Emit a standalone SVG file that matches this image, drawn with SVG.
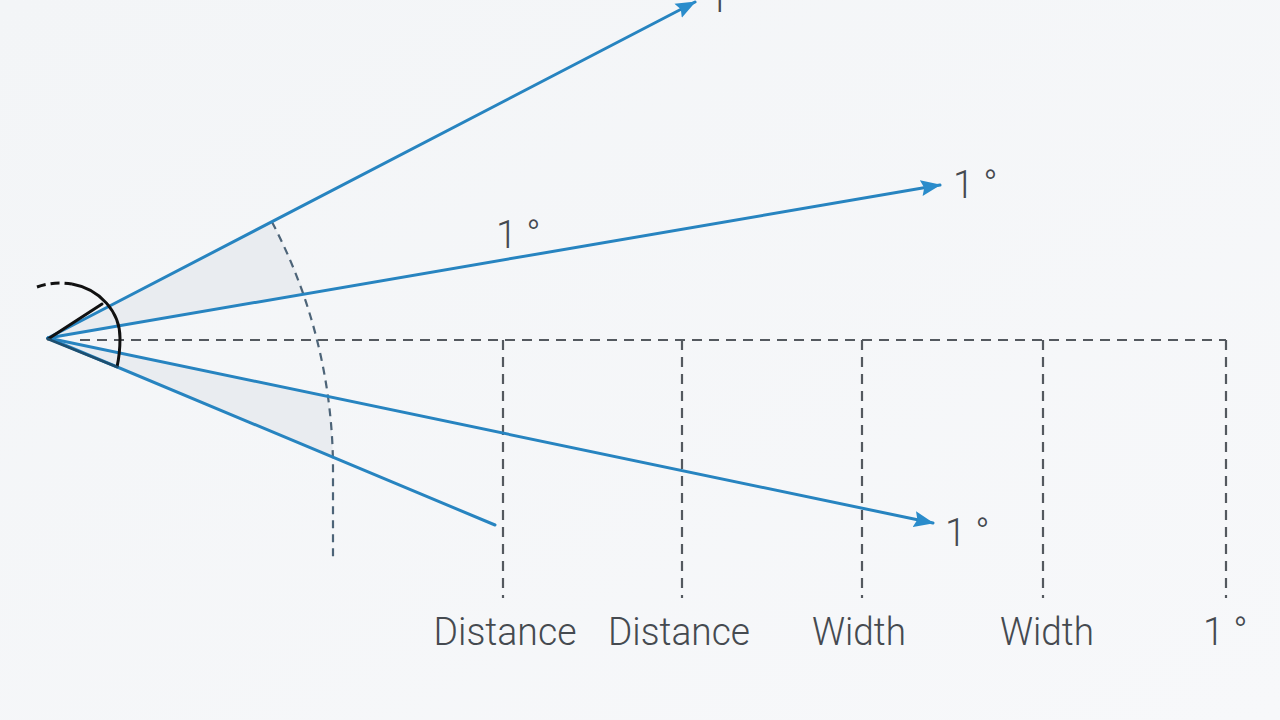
<svg xmlns="http://www.w3.org/2000/svg" width="1280" height="720" viewBox="0 0 1280 720">
<style>
.ray{stroke:#2784c0;stroke-width:3;fill:none;stroke-linecap:round}
.dash{stroke:#54595f;stroke-width:2.2;fill:none;stroke-dasharray:10 7}
.lbl{font-family:"Roboto","Liberation Sans",sans-serif;font-weight:300;font-size:38px;fill:#454a50}
.wedge{fill:#e6eaef;opacity:0.85}
</style>
<defs>
<linearGradient id="bg" x1="0" y1="0" x2="1" y2="1">
<stop offset="0" stop-color="#f3f5f7"/>
<stop offset="1" stop-color="#f7f8fa"/>
</linearGradient>
<marker id="arr" markerUnits="userSpaceOnUse" markerWidth="20" markerHeight="18" viewBox="0 0 20 18" refX="19" refY="9" orient="auto">
<path d="M0,1 L20,9 L0,17 L3,9 Z" fill="#2a8ccb"/>
</marker>
</defs>
<rect width="1280" height="720" fill="url(#bg)"/>
<g id="wedges">
<path class="wedge" d="M48,338 L272,222 A533,533 0 0,1 305,294 Z"/>
<path class="wedge" d="M48,338 L328,397 A533,533 0 0,1 333,457 Z"/>
</g>
<g id="guides">
<line class="dash" x1="80" y1="340" x2="1226" y2="340"/>
<line class="dash" x1="503" y1="340" x2="503" y2="598"/>
<line class="dash" x1="682" y1="340" x2="682" y2="598"/>
<line class="dash" x1="862" y1="340" x2="862" y2="598"/>
<line class="dash" x1="1043" y1="340" x2="1043" y2="598"/>
<line class="dash" x1="1226" y1="340" x2="1226" y2="598"/>
<path class="dash" d="M272,222 A533,533 0 0,1 333,470 L333,560" style="stroke:#4d6478;stroke-dasharray:8 6"/>
</g>
<g id="connectors">
<line class="ray" x1="48" y1="338" x2="695" y2="2" marker-end="url(#arr)"/>
<line class="ray" x1="48" y1="338" x2="940" y2="185" marker-end="url(#arr)"/>
<line class="ray" x1="48" y1="338" x2="933" y2="523" marker-end="url(#arr)"/>
<line class="ray" x1="48" y1="338" x2="495" y2="525"/>
</g>
<g id="eye">
<path d="M37,287 C48,283 60,282 72,284" fill="none" stroke="#111" stroke-width="3" stroke-dasharray="9 5"/>
<path d="M72,284 C100,289 120,312 120,338 C120,350 119,358 117,367" fill="none" stroke="#111" stroke-width="3"/>
<line x1="48" y1="339" x2="102" y2="304" stroke="#111" stroke-width="3" stroke-linecap="round"/>
<line x1="48" y1="339" x2="117" y2="367" stroke="#1d4f70" stroke-width="2.8" stroke-linecap="round"/>
</g>
<g id="labels">
<text class="lbl" x="708" y="12">1 °</text>
<text class="lbl" x="953" y="198">1 °</text>
<text class="lbl" x="496" y="248">1 °</text>
<text class="lbl" x="945" y="546">1 °</text>
<text class="lbl" x="505" y="645" text-anchor="middle" textLength="143" lengthAdjust="spacingAndGlyphs">Distance</text>
<text class="lbl" x="679" y="645" text-anchor="middle" textLength="142" lengthAdjust="spacingAndGlyphs">Distance</text>
<text class="lbl" x="859" y="645" text-anchor="middle" textLength="94" lengthAdjust="spacingAndGlyphs">Width</text>
<text class="lbl" x="1047" y="645" text-anchor="middle" textLength="94" lengthAdjust="spacingAndGlyphs">Width</text>
<text class="lbl" x="1203" y="645">1 °</text>
</g>
</svg>
